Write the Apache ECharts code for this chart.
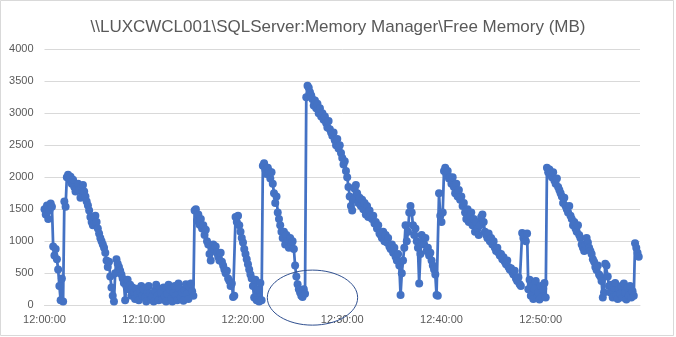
<!DOCTYPE html>
<html>
<head>
<meta charset="utf-8">
<script src="https://cdn.jsdelivr.net/npm/echarts@6/dist/echarts.min.js"></script>
<style>
html,body{margin:0;padding:0;background:#fff;}
#chart{width:676px;height:337px;}
</style>
</head>
<body>
<div id="chart"></div>
<script>
// ---- data ----
const chartTitle = "\\\\LUXCWCL001\\SQLServer:Memory Manager\\Free Memory (MB)";
const tickLabels = ['12:00:00', '12:10:00', '12:20:00', '12:30:00', '12:40:00', '12:50:00', '13:00:00'];
const sampleStepMin = 0.125; // one sample every 7.5 s

// Free memory (MB), one block per 10 minutes (8 samples per minute)
const mb_1200 = [1500,1420,1560,1350,1480,1590,1540,920,
                 780,880,720,560,300,80,420,60,
                 1620,1540,2000,2040,1980,2010,1900,1960,
                 1850,1780,1820,1900,1800,1680,1860,1880,
                 1780,1700,1620,1560,1480,1380,1300,1250,
                 1380,1400,1300,1200,1120,1050,1000,950,
                 900,820,700,600,680,450,280,150,
                 60,500,720,650,600,540,480,420,
                 350,80,300,400,250,320,150,280,
                 200,100,260,180,80,220,300,150];
const mb_1210 = [250,120,60,200,300,180,90,140,
                 60,230,320,150,80,260,200,90,
                 280,140,60,180,320,250,100,60,
                 200,300,150,80,340,260,120,200,
                 70,240,330,180,100,290,340,220,
                 150,1480,1500,1320,1420,1260,1350,1200,
                 1250,1100,1180,1000,950,800,700,850,
                 950,880,920,820,760,700,820,680,
                 620,560,500,540,420,380,300,340,
                 130,150,1380,1300,1400,1250,1150,1050];
const mb_1220 = [980,880,800,720,640,560,480,420,
                 300,120,400,80,250,60,350,80,
                 2180,2220,2120,2050,2150,2100,1980,2080,
                 1900,1750,1600,1700,1450,1350,1250,1150,
                 1050,1150,950,1100,1000,900,1050,950,
                 1000,880,620,450,330,250,200,150,
                 130,250,180,3250,3430,3400,3330,3280,
                 3220,3120,3200,3080,3150,3000,3080,2950,
                 3000,2900,2950,2850,2780,2880,2750,2700,
                 2650,2700,2580,2500,2600,2450,2500,2380];
const mb_1230 = [2300,2200,2250,2100,2000,1850,1700,1550,
                 1480,1650,1820,1880,1750,1600,1680,1550,
                 1650,1500,1600,1420,1550,1380,1480,1400,
                 1350,1400,1280,1300,1200,1250,1120,1100,
                 1050,1150,1000,1100,980,1050,920,880,
                 950,820,900,760,700,800,620,160,
                 500,700,900,1250,1000,1150,1450,1550,
                 1450,1250,1100,1200,1000,900,340,800,
                 1100,1000,950,1050,850,900,780,820,
                 700,620,560,480,160,150,1750,1400];
const mb_1240 = [1300,1450,2100,2150,2050,2100,1980,2000,
                 1900,2000,1850,1750,1900,1700,1800,1650,
                 1700,1550,1600,1450,1350,1500,1300,1400,
                 1450,1250,1350,1150,1300,1200,1100,1250,
                 1380,1420,1300,1150,1100,1050,1120,1000,
                 1050,950,1000,900,850,900,820,780,
                 800,720,750,680,640,700,600,560,
                 580,520,480,540,420,380,440,330,
                 300,1130,1050,1100,1000,1120,250,400,
                 150,300,100,250,380,120,200,90];
const mb_1250 = [300,130,260,350,120,2150,2080,2120,
                 2050,2000,2080,1950,1900,1980,1850,1800,
                 1750,1700,1600,1680,1550,1500,1450,1550,
                 1400,1350,1250,1300,1200,1150,1250,1100,
                 1050,950,900,850,950,1050,980,900,
                 850,800,720,680,600,550,620,480,
                 450,380,120,200,650,620,450,300,
                 200,320,120,280,350,150,100,260,
                 180,300,120,340,200,90,280,150,
                 300,120,220,150,970,900,820,760];

// highlighted region (annotation ellipse) in data units
const highlight = { centerMin: 27.0, centerMB: 120, radiusMin: 4.55, radiusMB: 430 };

// ---- build ----
const freeMB = [].concat(mb_1200, mb_1210, mb_1220, mb_1230, mb_1240, mb_1250);
const seriesData = freeMB.map((v, i) => [i * sampleStepMin, v]);

const chart = echarts.init(document.getElementById('chart'), null, {renderer: 'canvas'});
const font = 'Liberation Sans, Arial, sans-serif';
chart.setOption({
  animation: false,
  backgroundColor: '#ffffff',
  title: {
    text: chartTitle,
    left: 'center',
    top: 14,
    textStyle: {fontFamily: font, fontSize: 17, fontWeight: 'normal', color: '#595959'}
  },
  grid: {left: 44.5, right: 36, top: 49.3, bottom: 31.7, containLabel: false},
  xAxis: {
    type: 'value',
    min: 0, max: 60, interval: 10,
    axisLine: {show: true, lineStyle: {color: '#d9d9d9', width: 1}},
    axisTick: {show: false},
    splitLine: {show: false},
    axisLabel: {
      show: true, showMaxLabel: false, margin: 9,
      fontFamily: font, fontSize: 11, color: '#595959',
      formatter: v => tickLabels[Math.round(v / 10)]
    }
  },
  yAxis: {
    type: 'value',
    min: 0, max: 4000, interval: 500,
    axisLine: {show: false},
    axisTick: {show: false},
    splitLine: {lineStyle: {color: '#d9d9d9', width: 1}},
    axisLabel: {margin: 11, fontFamily: font, fontSize: 11, color: '#595959',
                formatter: v => String(v)}
  },
  series: [{
    type: 'line',
    data: seriesData,
    symbol: 'circle',
    symbolSize: 8,
    showAllSymbol: true,
    lineStyle: {color: '#4472C4', width: 2.75},
    itemStyle: {color: '#4472C4', borderWidth: 0}
  }]
});

const c = chart.convertToPixel({gridIndex: 0}, [highlight.centerMin, highlight.centerMB]);
const e = chart.convertToPixel({gridIndex: 0}, [highlight.centerMin + highlight.radiusMin, highlight.centerMB + highlight.radiusMB]);
chart.setOption({
  graphic: [
    {type: 'rect', silent: true, z: -1,
     shape: {x: 0.5, y: 0.5, width: 673, height: 335},
     style: {fill: null, stroke: '#d9d9d9', lineWidth: 1}},
    {type: 'ellipse', silent: true, z: 100,
     shape: {cx: c[0], cy: c[1], rx: Math.abs(e[0] - c[0]), ry: Math.abs(c[1] - e[1])},
     style: {fill: null, stroke: '#2f4f8f', lineWidth: 1}}
  ]
});
</script>
</body>
</html>
